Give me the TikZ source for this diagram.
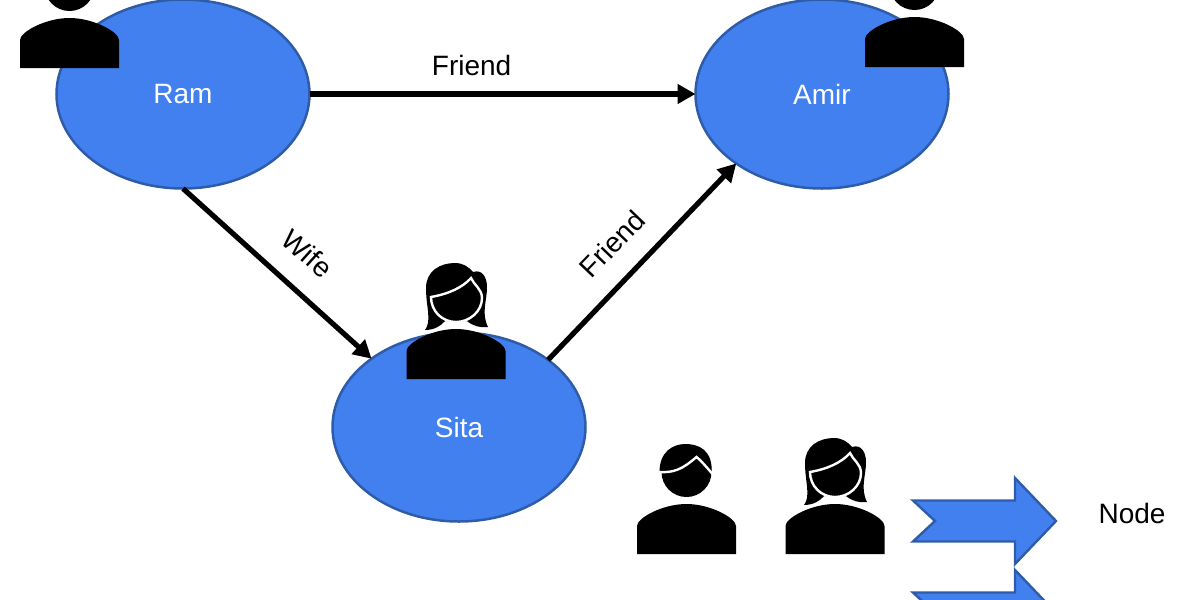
\documentclass[tikz,border=0pt]{standalone}
\usepackage{fontspec}
\setmainfont{Liberation Sans}
\usetikzlibrary{arrows.meta,shapes.geometric,positioning}
\definecolor{nodefill}{HTML}{4180EE}
\definecolor{nodeline}{HTML}{2F5CA8}

\tikzset{
  shoulders/.pic={
    \fill[black] (-49.5,0) -- (49.5,0) -- (49.5,-28)
      .. controls (49.5,-36) and (24,-50) .. (0,-50)
      .. controls (-24,-50) and (-49.5,-36) .. (-49.5,-28) -- cycle;
  },
  man icon/.pic={
    \pic {shoulders};
    \fill[black] (0,-82) circle (25);
    \fill[black] (-27,-82) .. controls (-27,-102) and (-14,-110) .. (-1,-110)
      .. controls (12,-110) and (27,-104) .. (25,-80) -- cycle;
    \draw[white,line width=2.4] (-28,-82) .. controls (-12,-81) and (-4,-85) .. (10,-97)
      .. controls (14,-94) and (19,-88) .. (26,-80);
  },
  woman icon/.pic={
    \pic {shoulders};
    % hair with the ponytail
    \fill[black] (-31,-49) .. controls (-24,-58) and (-30,-72) .. (-30,-91)
      .. controls (-30,-108) and (-16,-116) .. (-1,-116)
      .. controls (7,-116) and (13,-112) .. (17,-107)
      .. controls (26,-110) and (31,-102) .. (31,-92)
      .. controls (31,-78) and (25,-66) .. (32,-52)
      .. controls (24,-51) and (17,-53) .. (11,-58)
      -- (-11,-58) .. controls (-15,-53) and (-22,-49) .. (-31,-49) -- cycle;
    \draw[white,line width=2.4,fill=black] (-25,-82) .. controls (-8,-85) and (6,-91) .. (15,-101)
      .. controls (18,-94) and (26,-90) .. (26,-81)
      .. controls (26,-68) and (14,-57) .. (0,-57)
      .. controls (-14,-57) and (-25,-68) .. (-25,-82) -- cycle;
  },
  legend arrow/.pic={
    \draw[nodeline,fill=nodefill,line width=2.4,line join=miter]
      (-102,-20.5) -- (0,-20.5) -- (0,-43) -- (41,0) -- (0,43) -- (0,20.5)
      -- (-102,20.5) -- (-80,0) -- cycle;
  },
}

\begin{document}
\begin{tikzpicture}[x=1pt,y=-1pt,font=\fontsize{28}{32}\selectfont,
  main node/.style={ellipse,draw=nodeline,fill=nodefill,line width=2.5,text=white,
    minimum width=253,minimum height=189,inner sep=0,outer sep=0},
  link/.style={-{Triangle[length=18,width=19]},line width=5.2,black}]
    \useasboundingbox (0,0) rectangle (1200,600);
    \clip (0,0) rectangle (1200,600);

    \node[main node] (Ram) at (183,94) {Ram};
    \node[main node] (Amir) at (822,94) {Amir};
    \node[main node] (Sita) at (459,427) {Sita};

    \draw[link] (Ram.east) -- node[above=12pt,pos=0.42] (friendA) {Friend} (Amir.west);
    \draw[link] (Ram.south) -- node[pos=0.535,sloped,above=19pt] (wife) {Wife} (Sita.142);
    \draw[link] (Sita.37) -- node[pos=0.472,sloped,above=18pt] (friendB) {Friend} (Amir.219);

    \pic at (69.5,68) {man icon};
    \pic at (914.5,67) {man icon};
    \pic at (456,379) {woman icon};

    % legend
    \pic at (686.5,554) {man icon};
    \pic at (835,554) {woman icon};
    \pic at (1015,521) {legend arrow};
    \pic at (1015,613) {legend arrow};
    \node (nodelabel) at (1132,513) {Node};
\end{tikzpicture}
\end{document}
